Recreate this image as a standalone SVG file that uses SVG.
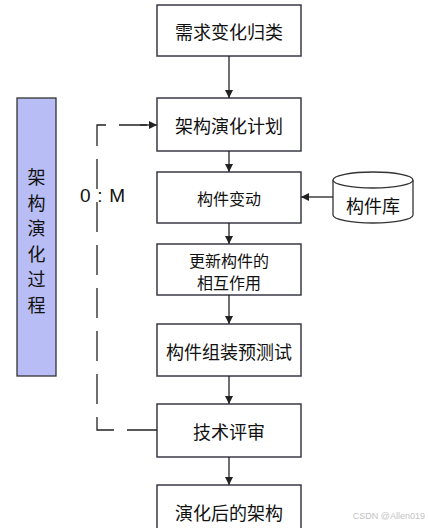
<svg xmlns="http://www.w3.org/2000/svg" width="429" height="528" viewBox="0 0 429 528">
<style>
.box{fill:#fff;stroke:#3a3a48;stroke-width:1.5}
.t{font-family:"Noto Sans CJK SC","Noto Sans",sans-serif;font-size:18px;fill:#111;text-anchor:middle;dominant-baseline:central}
.s{font-size:16px}
.ln{stroke:#222;stroke-width:1.3;fill:none}
.dash{stroke:#222;stroke-width:1.3;fill:none;stroke-dasharray:30 13}
</style>
<defs>
<marker id="ah" viewBox="0 0 10 10" refX="10" refY="5" markerWidth="8" markerHeight="8" markerUnits="userSpaceOnUse" orient="auto">
<path d="M0,0 L10,5 L0,10 Z" fill="#222"/>
</marker>
</defs>
<rect width="429" height="528" fill="#fff"/>
<g id="process">
<rect x="17" y="98" width="39" height="278" fill="#b8bdf5" stroke="#333" stroke-width="1.3"/>
<text class="t" x="36.5" y="176">架</text>
<text class="t" x="36.5" y="201.5">构</text>
<text class="t" x="36.5" y="227">演</text>
<text class="t" x="36.5" y="252.5">化</text>
<text class="t" x="36.5" y="278">过</text>
<text class="t" x="36.5" y="303.5">程</text>
</g>
<g id="n1"><rect class="box" x="157" y="5" width="144" height="51"/><text class="t" x="229" y="31">需求变化归类</text></g>
<g id="n2"><rect class="box" x="157" y="98" width="144" height="53"/><text class="t" x="229" y="125">架构演化计划</text></g>
<g id="n3"><rect class="box" x="157" y="172" width="144" height="51"/><text class="t s" x="229" y="198">构件变动</text></g>
<g id="n4"><rect class="box" x="157" y="244" width="144" height="51"/><text class="t s" x="229" y="260">更新构件的</text><text class="t s" x="229" y="282">相互作用</text></g>
<g id="n5"><rect class="box" x="157" y="324" width="144" height="52"/><text class="t" x="229" y="351">构件组装预测试</text></g>
<g id="n6"><rect class="box" x="157" y="404" width="144" height="53"/><text class="t" x="229" y="431">技术评审</text></g>
<g id="n7"><rect class="box" x="157" y="485" width="144" height="60"/><text class="t" x="229" y="512">演化后的架构</text></g>
<g id="lib">
<path d="M333,180 L333,215 A40,8 0 0 0 413,215 L413,180" fill="#fff" stroke="#333" stroke-width="1.3"/>
<ellipse cx="373" cy="180" rx="40" ry="8" fill="#fff" stroke="#333" stroke-width="1.3"/>
<text class="t" x="373" y="205">构件库</text>
</g>
<g id="connectors">
<line class="ln" x1="229" y1="56" x2="229" y2="98" marker-end="url(#ah)"/>
<line class="ln" x1="229" y1="151" x2="229" y2="172" marker-end="url(#ah)"/>
<line class="ln" x1="229" y1="223" x2="229" y2="244" marker-end="url(#ah)"/>
<line class="ln" x1="229" y1="295" x2="229" y2="324" marker-end="url(#ah)"/>
<line class="ln" x1="229" y1="376" x2="229" y2="404" marker-end="url(#ah)"/>
<line class="ln" x1="229" y1="457" x2="229" y2="485" marker-end="url(#ah)"/>
<line class="ln" x1="333" y1="197" x2="301" y2="197" marker-end="url(#ah)"/>
<path class="dash" d="M157,430 L97,430 L97,125 L147,125"/>
<line class="ln" x1="140" y1="125" x2="157" y2="125" marker-end="url(#ah)"/>
<text x="80" y="202" font-family="Liberation Sans,Arial,sans-serif" font-size="19" fill="#111" textLength="45" xml:space="preserve">0 : M</text>
</g>
<text x="425" y="519" font-family="Liberation Sans,Arial,sans-serif" font-size="9" fill="#c4c4c4" text-anchor="end">CSDN @Allen019</text>
</svg>
